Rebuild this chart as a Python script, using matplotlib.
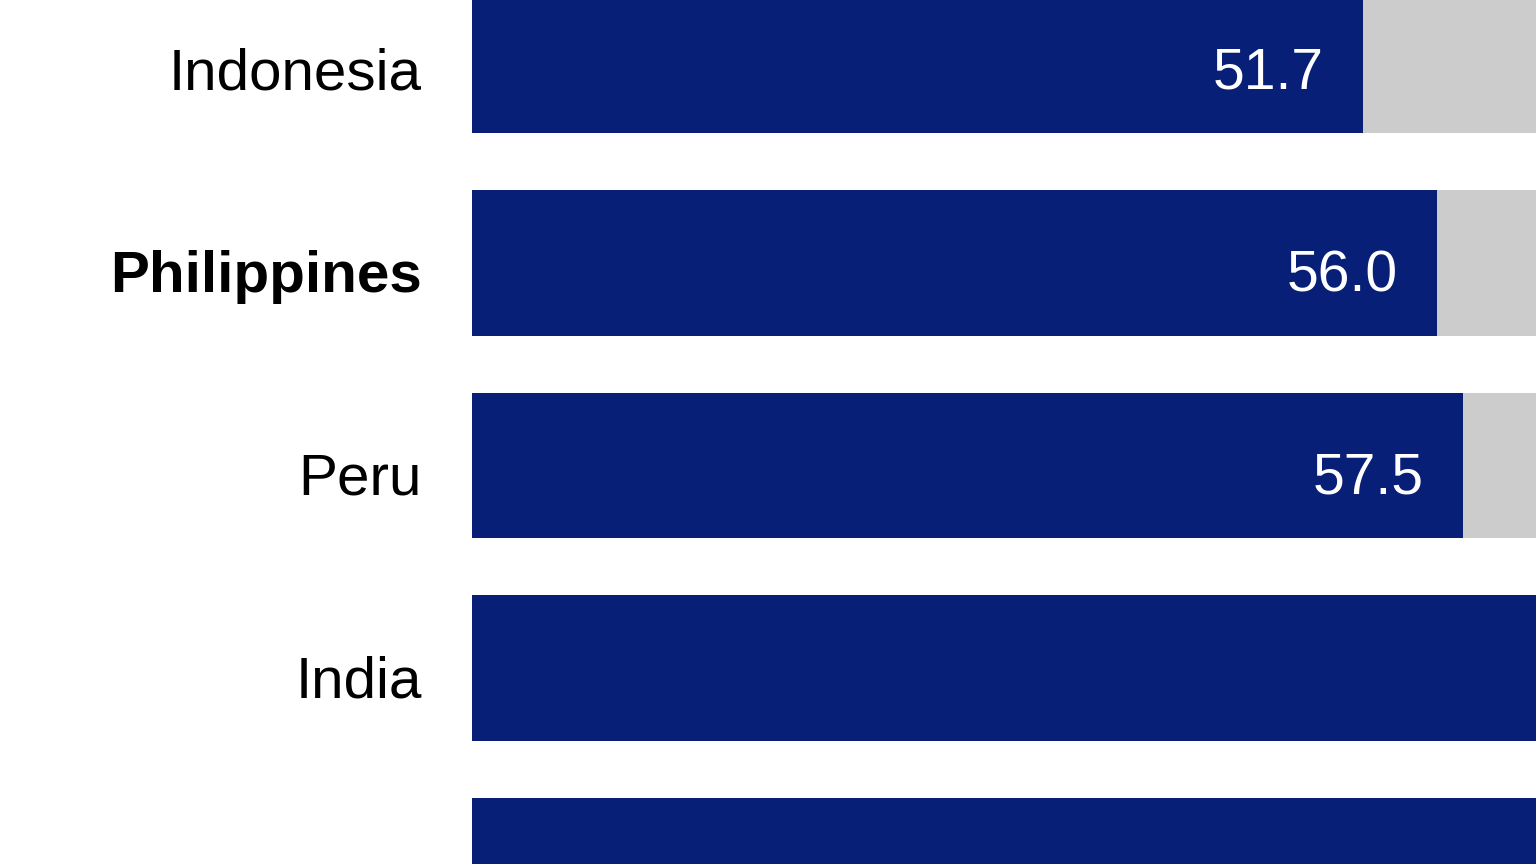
import numpy as np
import matplotlib.pyplot as plt

# visible rows of the chart (the view is cropped; the last row's label is not shown)
countries = ["Indonesia", "Philippines", "Peru", "India", ""]
values = [51.7, 56.0, 57.5, 65.0, 68.0]
full_scale = [100, 100, 100, 100, 100]
highlight = "Philippines"
show_value = [True, True, True, False, False]

navy = "#081f78"
grey = "#cccccc"

plt.rcParams['font.family'] = ['Liberation Sans', 'DejaVu Sans']

W, H, DPI = 1536, 864, 100
fig = plt.figure(figsize=(W / DPI, H / DPI), dpi=DPI)
fig.patch.set_facecolor("white")

# axis starts at x=472px, 17.24 px per unit; rows 202.5 px apart, first centre at 60.5 px
x0_px = 472
px_per_unit = 17.24
row_px = 202.5
first_px = 60.5
ax = fig.add_axes([x0_px / W, 0, 1 - x0_px / W, 1])
ax.set_xlim(0, (W - x0_px) / px_per_unit)
ax.set_ylim((H - first_px) / row_px, -first_px / row_px)
ax.axis("off")

y = np.arange(len(countries))
ax.barh(y, full_scale, height=0.72, color=grey, zorder=1)
ax.barh(y, values, height=0.72, color=navy, zorder=2)

for i, (name, v) in enumerate(zip(countries, values)):
    weight = "bold" if name == highlight else "normal"
    if name:
        ax.annotate(name, xy=(0, i), xytext=(-50, -29), textcoords="offset pixels",
                    ha="right", va="baseline", fontsize=42, fontweight=weight,
                    color="black", annotation_clip=False)
    if show_value[i]:
        ax.annotate(f"{v:.1f}", xy=(v, i), xytext=(-40, -28), textcoords="offset pixels",
                    ha="right", va="baseline", fontsize=41, color="white", zorder=3)

fig.savefig("out.png", dpi=DPI)
